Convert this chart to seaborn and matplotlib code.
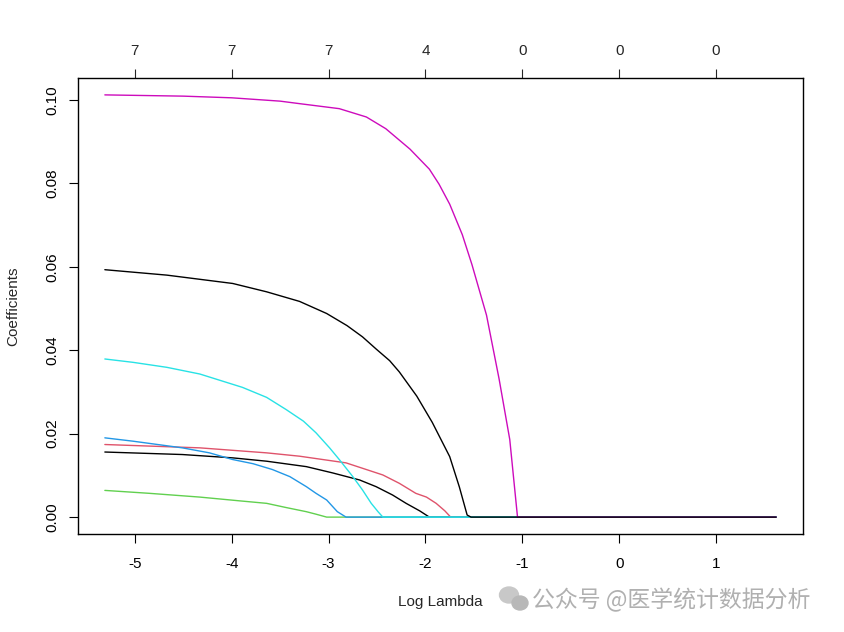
import numpy as np
import pandas as pd
import seaborn as sns
import matplotlib.pyplot as plt
from matplotlib.patches import Ellipse

# glmnet coefficient path: log(lambda) knots and coefficient values per variable
loglam_max = 1.62
df_ticks = [-5, -4, -3, -2, -1, 0, 1]
df_labels = ["7", "7", "7", "4", "0", "0", "0"]

v1_x = [-5.31, -4.51, -3.99, -3.64, -3.23, -2.96, -2.68, -2.51, -2.34, -2.20,
        -2.06, -1.96]
v1_y = [0.0156, 0.0150, 0.0142, 0.0134, 0.0121, 0.0106, 0.0089, 0.0073, 0.0053,
        0.0033, 0.0015, 0.0]

v2_x = [-5.31, -4.33, -3.64, -3.30, -2.82, -2.61, -2.44, -2.27, -2.10, -1.99,
        -1.89, -1.80, -1.74]
v2_y = [0.0174, 0.0166, 0.0154, 0.0146, 0.0130, 0.0114, 0.0101, 0.0081, 0.0057,
        0.0048, 0.0033, 0.0015, 0.0]

v3_x = [-5.31, -4.85, -4.33, -3.92, -3.64, -3.44, -3.23, -3.13, -3.02]
v3_y = [0.0064, 0.0057, 0.0048, 0.0039, 0.0033, 0.0023, 0.0013, 0.0007, 0.0]

v4_x = [-5.31, -5.02, -4.51, -4.23, -3.99, -3.78, -3.58, -3.40, -3.23, -3.13,
        -3.02, -2.91, -2.82]
v4_y = [0.0190, 0.0182, 0.0166, 0.0154, 0.0138, 0.0128, 0.0114, 0.0097, 0.0073,
        0.0057, 0.0041, 0.0013, 0.0]

v5_x = [-5.31, -5.02, -4.67, -4.33, -3.89, -3.64, -3.44, -3.26, -3.13, -2.99,
        -2.89, -2.75, -2.65, -2.56, -2.49, -2.44]
v5_y = [0.0379, 0.0371, 0.0359, 0.0343, 0.0311, 0.0287, 0.0258, 0.0230, 0.0202,
        0.0166, 0.0138, 0.0097, 0.0065, 0.0033, 0.0013, 0.0]

v6_x = [-5.31, -4.50, -4.00, -3.50, -3.30, -2.89, -2.61, -2.41, -2.16, -1.96,
        -1.86, -1.75, -1.62, -1.52, -1.37, -1.24, -1.13, -1.05]
v6_y = [0.1012, 0.1009, 0.1005, 0.0997, 0.0991, 0.0979, 0.0959, 0.0931, 0.0882,
        0.0834, 0.0798, 0.0750, 0.0677, 0.0605, 0.0484, 0.0331, 0.0186, 0.0]

v7_x = [-5.31, -4.67, -3.99, -3.64, -3.30, -3.02, -2.81, -2.65, -2.51, -2.37,
        -2.27, -2.09, -1.93, -1.75, -1.65, -1.57, -1.53]
v7_y = [0.0593, 0.0580, 0.0560, 0.0540, 0.0517, 0.0488, 0.0459, 0.0432, 0.0403,
        0.0375, 0.0348, 0.0290, 0.0227, 0.0145, 0.0072, 0.0005, 0.0]

names = ["V1", "V2", "V3", "V4", "V5", "V6", "V7"]
colors = ["black", "#DF536B", "#61D04F", "#2297E6", "#28E2E5", "#CD0BBC", "black"]

rows = []
for name, xs, ys in zip(names, [v1_x, v2_x, v3_x, v4_x, v5_x, v6_x, v7_x],
                        [v1_y, v2_y, v3_y, v4_y, v5_y, v6_y, v7_y]):
    xs = list(xs) + [loglam_max]
    ys = list(ys) + [0.0]
    for i, (a, b) in enumerate(zip(xs, ys)):
        rows.append({"var": name, "order": i, "loglam": a, "coef": b})
data = pd.DataFrame(rows)

sns.set_style("white")
plt.rcParams["font.family"] = ["Liberation Sans", "DejaVu Sans"]
plt.rcParams["axes.unicode_minus"] = False

fig = plt.figure(figsize=(8.44, 6.32), dpi=100)
ax = fig.add_axes([78 / 844, 1 - 534 / 632, (803 - 78) / 844, (534 - 78) / 632])

sns.lineplot(data=data, x="loglam", y="coef", hue="var", palette=colors,
             hue_order=names, sort=False, estimator=None, units="var",
             linewidth=1.0, legend=False, ax=ax)

xmin, xmax = data["loglam"].min(), data["loglam"].max()
ymin, ymax = data["coef"].min(), data["coef"].max()
xpad = (xmax - xmin) * 0.04
ypad = (ymax - ymin) * 0.04
ax.set_xlim(xmin - xpad, xmax + xpad)
ax.set_ylim(ymin - ypad, ymax + ypad)

ax.set_xticks(df_ticks)
ax.set_xticklabels([str(t) for t in df_ticks])
ax.set_yticks([0.0, 0.02, 0.04, 0.06, 0.08, 0.10])
ax.set_yticklabels(["0.00", "0.02", "0.04", "0.06", "0.08", "0.10"],
                   rotation=90, va="center")
ax.set_xlabel("")
ax.set_ylabel("")

for s in ax.spines.values():
    s.set_visible(True)
    s.set_color("black")
    s.set_linewidth(1.0)

ax.tick_params(axis="both", direction="out", length=6.5, width=0.8,
               labelsize=11, colors="black", bottom=True, left=True)
ax.tick_params(axis="x", pad=10)
ax.tick_params(axis="y", pad=7)

top = ax.secondary_xaxis("top")
top.set_xticks(df_ticks)
top.set_xticklabels(df_labels)
top.tick_params(direction="out", length=6.5, width=0.8, labelsize=11, pad=8)
top.spines["top"].set_visible(False)

fig.text(440 / 844, 1 - 602 / 632, "Log Lambda", ha="center", va="center",
         fontsize=11)
fig.text(13 / 844, 1 - 306 / 632, "Coefficients", ha="center", va="center",
         rotation=90, fontsize=11)

# watermark
fig.patches.append(Ellipse((509 / 844, 1 - 595 / 632), 19 / 844, 16 / 632,
                           transform=fig.transFigure, color="#c8c8c8", zorder=5))
fig.patches.append(Ellipse((520 / 844, 1 - 603 / 632), 16 / 844, 14 / 632,
                           transform=fig.transFigure, color="#b8b8b8", zorder=6))
fig.text(532 / 844, 1 - 600 / 632, "公众号 @医学统计数据分析", ha="left",
         va="center", fontsize=16.5, color="#b0b0b0",
         family=["Noto Sans CJK SC", "DejaVu Sans"])

fig.savefig("out.png", dpi=100)
